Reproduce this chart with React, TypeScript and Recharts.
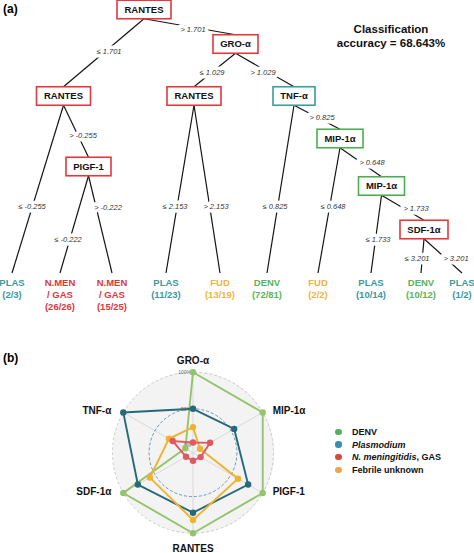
import {
  ScatterChart,
  Scatter,
  XAxis,
  YAxis,
  RadarChart,
  Radar,
  PolarGrid,
  PolarAngleAxis,
  PolarRadiusAxis,
} from 'recharts';

const FONT = 'Arial, "Liberation Sans", Helvetica, sans-serif';

// ---------- (a) decision tree data ----------
const SPLIT_FEATURES = ['RANTES', 'RANTES', 'GRO-α', 'PIGF-1', 'RANTES', 'TNF-α', 'MIP-1α', 'MIP-1α', 'SDF-1α'];
const SPLIT_THRESHOLDS = [1.701, -0.255, 1.029, -0.222, 2.153, 0.825, 0.648, 1.733, 3.201];
// children of each split: [≤ branch, > branch]
const SPLIT_CHILDREN = [
  ['s1', 's2'],
  ['l0', 's3'],
  ['s4', 's5'],
  ['l1', 'l2'],
  ['l3', 'l4'],
  ['l5', 's6'],
  ['l6', 's7'],
  ['l7', 's8'],
  ['l8', 'l9'],
];
const LEAF_CLASSES = ['PLAS', 'N.MEN / GAS', 'N.MEN / GAS', 'PLAS', 'FUD', 'DENV', 'FUD', 'PLAS', 'DENV', 'PLAS'];
const LEAF_CORRECT = [2, 26, 15, 11, 13, 72, 2, 10, 10, 1];
const LEAF_TOTAL = [3, 26, 25, 23, 19, 81, 2, 14, 12, 2];
const ACCURACY = 68.643;

// tree layout (chart units)
const SPLIT_XY = [
  [144, 9.5], [63.5, 96], [235.5, 44], [88.5, 166.5], [194, 96],
  [294, 96], [340, 138.5], [381.5, 186], [424, 229.5],
];
const LEAF_X = [12, 60, 112, 166, 220, 267, 318, 371, 421, 462];
const LEAF_Y = 283;
const EDGE_LABEL_XY = [
  [[109, 51], [193, 29]],
  [[32, 206], [83, 135]],
  [[212, 72], [263, 72]],
  [[68, 239], [108, 207]],
  [[175, 206], [216, 206]],
  [[275, 206], [322, 117]],
  [[333, 206], [372, 162]],
  [[378, 239], [416, 208]],
  [[417, 258], [456, 258]],
];

const BOX_H = 18.5;
const BOX_W: Record<string, number> = {
  RANTES: 54, 'GRO-α': 45, 'PIGF-1': 45, 'TNF-α': 42, 'MIP-1α': 46, 'SDF-1α': 48,
};
const BOX_COLOR: Record<string, string> = {
  RANTES: '#e0393e', 'GRO-α': '#e0393e', 'PIGF-1': '#e0393e', 'SDF-1α': '#e0393e',
  'TNF-α': '#3a9ca0', 'MIP-1α': '#4cae50',
};
const CLASS_COLOR: Record<string, string> = {
  PLAS: '#3a9aa0', 'N.MEN / GAS': '#e0363c', FUD: '#f2b43a', DENV: '#5ab45a',
};

const splitNodes = SPLIT_FEATURES.map((f, i) => ({
  x: SPLIT_XY[i][0],
  y: SPLIT_XY[i][1],
  label: f,
  w: BOX_W[f],
  color: BOX_COLOR[f],
}));

const leafNodes = LEAF_CLASSES.map((c, i) => ({
  x: LEAF_X[i],
  y: LEAF_Y,
  lines: [...c.split(' / ').map((s, k) => (k > 0 ? `/ ${s}` : s)), `(${LEAF_CORRECT[i]}/${LEAF_TOTAL[i]})`],
  color: CLASS_COLOR[c],
}));

const topOf = (id: string) => {
  const i = Number(id.slice(1));
  return id[0] === 's'
    ? { x: SPLIT_XY[i][0], y: SPLIT_XY[i][1] - BOX_H / 2 }
    : { x: LEAF_X[i], y: LEAF_Y - 10 };
};

const edges = SPLIT_CHILDREN.flatMap((kids, i) =>
  kids.map((kid) => [{ x: SPLIT_XY[i][0], y: SPLIT_XY[i][1] + BOX_H / 2 }, topOf(kid)])
);

const edgeLabels = SPLIT_THRESHOLDS.flatMap((t, i) => [
  { x: EDGE_LABEL_XY[i][0][0], y: EDGE_LABEL_XY[i][0][1], text: `≤ ${t.toFixed(3)}` },
  { x: EDGE_LABEL_XY[i][1][0], y: EDGE_LABEL_XY[i][1][1], text: `> ${t.toFixed(3)}` },
]);

const NoShape = () => <g />;

const BoxShape = (p: any) => {
  const { cx, cy, payload } = p;
  return (
    <g>
      <rect
        x={cx - payload.w / 2}
        y={cy - BOX_H / 2}
        width={payload.w}
        height={BOX_H}
        fill="#fff"
        stroke={payload.color}
        strokeWidth={1.6}
      />
      <text x={cx} y={cy} dy="0.35em" textAnchor="middle" fontSize={9.5} fontWeight="bold" fill="#111" fontFamily={FONT}>
        {payload.label}
      </text>
    </g>
  );
};

const LeafShape = (p: any) => {
  const { cx, cy, payload } = p;
  return (
    <text x={cx} y={cy} textAnchor="middle" fontSize={9.5} fontWeight="bold" fill={payload.color} fontFamily={FONT}>
      {payload.lines.map((l: string, k: number) => (
        <tspan key={k} x={cx} dy={k === 0 ? '0.35em' : 12}>
          {l}
        </tspan>
      ))}
    </text>
  );
};

const EdgeLabelShape = (p: any) => {
  const { cx, cy, payload } = p;
  return (
    <text
      x={cx}
      y={cy}
      dy="0.35em"
      textAnchor="middle"
      fontSize={7.5}
      fontStyle="italic"
      fill="#333"
      stroke="#fff"
      strokeWidth={7}
      strokeLinejoin="round"
      paintOrder="stroke"
      fontFamily={FONT}
    >
      {payload.text}
    </text>
  );
};

// ---------- (b) radar data ----------
const RADAR_AXES = ['GRO-α', 'MIP-1α', 'PIGF-1', 'RANTES', 'SDF-1α', 'TNF-α'];
const DENV_VALUES = [100, 100, 100, 100, 100, 2];
const PLASMODIUM_VALUES = [50, 55, 77, 72, 77, 100];
const NMEN_GAS_VALUES = [4, 17, 2, 1, 1, 22];
const FEBRILE_VALUES = [25, 1, 61, 82, 58, 28];
const RADIUS_DOMAIN = [-10, 100];
const RADIUS_TICKS = [0, 50, 100];

const SERIES_NAMES = ['DENV', 'Plasmodium', 'N. meningitidis, GAS', 'Febrile unknown'];
const SERIES_ITALIC = ['', 'Plasmodium', 'N. meningitidis', ''];
const SERIES_KEYS = ['denv', 'plas', 'nmen', 'fud'];
const LINE_COLORS = ['#93c46b', '#25697a', '#e05862', '#f1b22e'];
const LEGEND_COLORS = ['#55b055', '#3a8fa8', '#d9483e', '#f2a44a'];
const DRAW_ORDER = [0, 1, 3, 2];

const radarData = RADAR_AXES.map((axis, i) => ({
  axis,
  denv: DENV_VALUES[i],
  plas: PLASMODIUM_VALUES[i],
  nmen: NMEN_GAS_VALUES[i],
  fud: FEBRILE_VALUES[i],
}));

const RADAR_TOP = 340;
const RADAR_CX = 193;
const RADAR_CY = 112.7;
const OUTER_R = 80.5;
const radiusOf = (v: number) =>
  (OUTER_R * (v - RADIUS_DOMAIN[0])) / (RADIUS_DOMAIN[1] - RADIUS_DOMAIN[0]);

const AngleTick = (p: any) => {
  const { x, y, payload, textAnchor } = p;
  let dx = 0;
  let dy = 0;
  if (textAnchor === 'middle') dy = y < RADAR_CY ? 0 : 11;
  else {
    dx = textAnchor === 'start' ? 3 : -5;
    dy = y < RADAR_CY ? 6 : -2;
  }
  return (
    <text x={x + dx} y={y + dy} textAnchor={textAnchor} fontSize={10} fontWeight="bold" fill="#111" fontFamily={FONT}>
      {payload.value}
    </text>
  );
};

const RadiusTick = (p: any) => {
  const { x, y, payload } = p;
  return (
    <text x={x - 2} y={y} dy="0.35em" textAnchor="end" fontSize={5} fill="#666" fontFamily={FONT}>
      {payload.value}%
    </text>
  );
};

export default function App() {
  return (
    <div
      style={{
        position: 'absolute',
        left: 0,
        top: 0,
        width: 474,
        height: 553,
        background: '#fff',
        fontFamily: FONT,
        overflow: 'hidden',
      }}
    >
      <div style={{ position: 'absolute', left: 3, top: 2, fontSize: 12, fontWeight: 'bold', lineHeight: '14px' }}>
        (a)
      </div>
      <div
        style={{
          position: 'absolute',
          left: 311,
          width: 160,
          top: 22,
          fontSize: 11.5,
          fontWeight: 'bold',
          lineHeight: '14px',
          textAlign: 'center',
          color: '#111',
        }}
      >
        Classification
        <br />
        accuracy = {ACCURACY.toFixed(3)}%
      </div>

      <div style={{ position: 'absolute', left: 0, top: 0 }}>
        <ScatterChart width={474} height={345} margin={{ top: 0, right: 0, bottom: 0, left: 0 }}>
          <XAxis type="number" dataKey="x" domain={[0, 474]} hide />
          <YAxis type="number" dataKey="y" domain={[0, 345]} reversed hide />
          {edges.map((seg, i) => (
            <Scatter
              key={`edge-${i}`}
              data={seg}
              line={{ stroke: '#151515', strokeWidth: 1.2 }}
              shape={NoShape}
              isAnimationActive={false}
            />
          ))}
          <Scatter data={edgeLabels} shape={EdgeLabelShape} isAnimationActive={false} />
          <Scatter data={splitNodes} shape={BoxShape} isAnimationActive={false} />
          <Scatter data={leafNodes} shape={LeafShape} isAnimationActive={false} />
        </ScatterChart>
      </div>

      <div style={{ position: 'absolute', left: 3, top: 351, fontSize: 12, fontWeight: 'bold', lineHeight: '14px' }}>
        (b)
      </div>

      <div
        style={{
          position: 'absolute',
          left: RADAR_CX - OUTER_R,
          top: RADAR_TOP + RADAR_CY - OUTER_R,
          width: OUTER_R * 2,
          height: OUTER_R * 2,
          borderRadius: '50%',
          background: '#f3f3f3',
        }}
      />
      <div style={{ position: 'absolute', left: 0, top: RADAR_TOP }}>
        <RadarChart
          width={474}
          height={213}
          data={radarData}
          cx={RADAR_CX}
          cy={RADAR_CY}
          outerRadius={OUTER_R}
          margin={{ top: 0, right: 0, bottom: 0, left: 0 }}
        >
          <PolarGrid gridType="circle" polarRadius={[]} stroke="#d2d2d2" strokeWidth={0.8} />
          <PolarGrid
            gridType="circle"
            radialLines={false}
            polarRadius={[radiusOf(100)]}
            stroke="#bdbdbd"
            strokeWidth={0.8}
            strokeDasharray="3 2"
          />
          <PolarGrid
            gridType="circle"
            radialLines={false}
            polarRadius={[radiusOf(50)]}
            stroke="#4f7f9e"
            strokeWidth={0.8}
            strokeDasharray="3 2"
          />
          <PolarAngleAxis dataKey="axis" tick={AngleTick} tickLine={false} axisLine={false} />
          <PolarRadiusAxis
            angle={90}
            type="number"
            domain={RADIUS_DOMAIN}
            ticks={RADIUS_TICKS}
            axisLine={false}
            tick={RadiusTick}
          />
          {DRAW_ORDER.map((i) => (
            <Radar
              key={SERIES_KEYS[i]}
              name={SERIES_NAMES[i]}
              dataKey={SERIES_KEYS[i]}
              stroke={LINE_COLORS[i]}
              strokeWidth={1.9}
              fill="none"
              fillOpacity={0}
              dot={{ r: 3.2, fill: LINE_COLORS[i], stroke: 'none', fillOpacity: 1 }}
              isAnimationActive={false}
            />
          ))}
        </RadarChart>
      </div>

      <div style={{ position: 'absolute', left: 335, top: 425.5 }}>
        {SERIES_NAMES.map((name, i) => (
          <div key={name} style={{ display: 'flex', alignItems: 'center', height: 12.7 }}>
            <span
              style={{
                display: 'inline-block',
                width: 6.5,
                height: 6.5,
                borderRadius: '50%',
                background: LEGEND_COLORS[i],
                marginRight: 10.5,
              }}
            />
            <span style={{ fontSize: 9, fontWeight: 'bold', color: '#111', whiteSpace: 'nowrap' }}>
              {SERIES_ITALIC[i] && <i>{SERIES_ITALIC[i]}</i>}
              {name.slice(SERIES_ITALIC[i].length)}
            </span>
          </div>
        ))}
      </div>
    </div>
  );
}
